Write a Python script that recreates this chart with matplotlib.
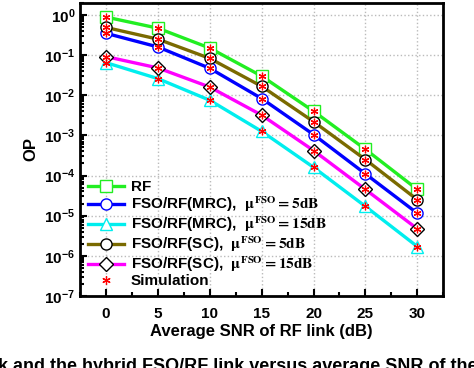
import numpy as np
import matplotlib
matplotlib.use("Agg")
import matplotlib.pyplot as plt
from matplotlib.ticker import MultipleLocator, LogLocator

plt.rcParams['font.family'] = ['Liberation Sans', 'DejaVu Sans']
plt.rcParams['font.weight'] = 'bold'
plt.rcParams['mathtext.fontset'] = 'stix'

# data
snr = [0, 5, 10, 15, 20, 25, 30]
op_rf = [0.89, 0.47, 0.15, 0.030, 0.0040, 4.5e-4, 4.5e-5]
op_mrc5 = [0.35, 0.16, 0.047, 0.0083, 1.05e-3, 1.1e-4, 1.15e-5]
op_mrc15 = [0.065, 0.026, 0.0075, 1.26e-3, 1.6e-4, 1.7e-5, 1.7e-6]
op_sc5 = [0.49, 0.25, 0.083, 0.0167, 0.0022, 2.5e-4, 2.5e-5]
op_sc15 = [0.092, 0.048, 0.016, 0.0032, 4.2e-4, 4.5e-5, 4.7e-6]

mu_lbl = r"  $\mathbf{\mu^{FSO}=%sdB}$"
series = [
    ("RF", op_rf, '#22ee22', 's', '#22ee22'),
    ("FSO/RF(MRC)," + mu_lbl % "5", op_mrc5, '#0000ff', 'o', '#0000ff'),
    ("FSO/RF(MRC)," + mu_lbl % "15", op_mrc15, '#00eeee', '^', '#00eeee'),
    ("FSO/RF(SC)," + mu_lbl % "5", op_sc5, '#7a6a00', 'o', 'black'),
    ("FSO/RF(SC)," + mu_lbl % "15", op_sc15, '#ff00ff', 'D', 'black'),
]

fig = plt.figure(figsize=(4.74, 3.68), dpi=100)
ax = fig.add_axes([0.169, 0.196, 0.766, 0.796])

for label, vals, color, mk, edge in series:
    ax.semilogy(snr, vals, color=color, lw=2.4, marker=mk, ms=8 if mk != 'D' else 7,
                mfc='white', mec=edge, mew=1.0, label=label, zorder=3)

# simulation points on top of the analytical curves
for _, vals, _, _, _ in series:
    ax.semilogy(snr, vals, ls='none', marker=(6, 2, 0), ms=5.5, color='red', mew=0.9, zorder=4)
ax.plot([], [], ls='none', marker=(6, 2, 0), ms=6, color='red', mew=0.9, label='Simulation')

ax.set_xlim(-2.5, 32.5)
ax.set_ylim(1e-7, 2)
ax.set_xticks(snr)
ax.xaxis.set_minor_locator(MultipleLocator(2.5))
ax.yaxis.set_major_locator(LogLocator(base=10, numticks=12))
ax.yaxis.set_minor_locator(LogLocator(base=10, subs=np.arange(2, 10), numticks=12))
ax.tick_params(which='both', direction='in', labelsize=11, width=1.5)
ax.tick_params(which='major', length=5)
ax.tick_params(which='minor', length=3)
ax.tick_params(axis='x', pad=8)
for sp in ax.spines.values():
    sp.set_linewidth(2)

ax.grid(True, which='major', ls=':', color='#bbbbbb', lw=1)
ax.set_xlabel('Average SNR of RF link (dB)', fontsize=12, fontweight='bold', labelpad=2)
ax.set_ylabel('OP', fontsize=12, fontweight='bold')

ax.legend(loc='lower left', frameon=False, fontsize=11, handlelength=2.4,
          labelspacing=0.02, borderaxespad=0.1, handletextpad=0.4,
          bbox_to_anchor=(0.0, 0.0))

fig.text(-0.005, 0.028, "k and the hybrid FSO/RF link versus average SNR of the",
         fontsize=13, fontweight='bold', ha='left', va='top')

fig.savefig('out.png', dpi=100)
